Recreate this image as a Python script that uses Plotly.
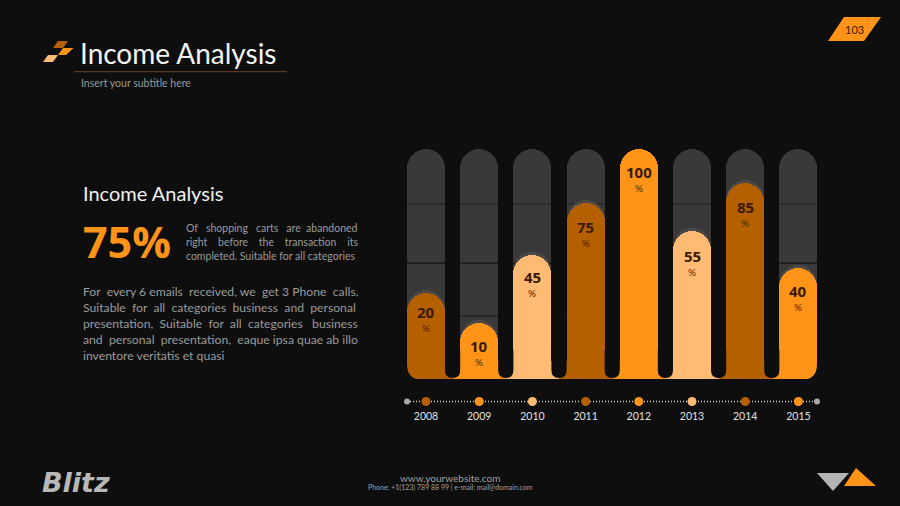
import plotly.graph_objects as go

# datos
years = [2008, 2009, 2010, 2011, 2012, 2013, 2014, 2015]
labels = [20, 10, 45, 75, 100, 55, 85, 40]
# alturas dibujadas (no van a escala con las etiquetas), en % de la columna gris
heights = [37.4, 24.3, 53.9, 76.5, 100, 64.3, 85.2, 48.3]
track = [100, 100, 100, 100, 100, 100, 100, 100]
grid_levels = [76.1, 50.4, 27.4]
grid_colors = ["#242424", "#141414", "#1a1a1a"]
# distancia en px del tope de la barra al numero
label_drop = [19, 23, 22, 24, 23, 25, 24, 23]

DARK = "#b46000"
ORANGE = "#ff9419"
LIGHT = "#ffbb73"
colors = [DARK, ORANGE, LIGHT, DARK, ORANGE, LIGHT, DARK, ORANGE]
BG = "#0e0e0e"
W, H = 900, 506

# escala: 2008 -> px 426, 53.2 px por anio / y=0 -> px 379, 2.3 px por unidad
PX_YEAR = 53.2
PX_UNIT = 2.3
xrange_ = [2008 - 426 / PX_YEAR, 2008 + (W - 426) / PX_YEAR]
yrange_ = [(379 - H) / PX_UNIT, 379 / PX_UNIT]
BAR_W = 38 / PX_YEAR
RADIUS = 19
GAP = (PX_YEAR - 38) / 2


def px_x(p):
    return 2008 + (p - 426) / PX_YEAR


def px_y(p):
    return (379 - p) / PX_UNIT


def P(x, y):
    return f"{x / W:.5f},{1 - y / H:.5f}"


def poly(points, color):
    d = "M " + " L ".join(P(*p) for p in points) + " Z"
    return dict(type="path", xref="paper", yref="paper", path=d, fillcolor=color, line_width=0)


def text(x, y, s, size, color, anchor="left", font="Lato"):
    return dict(xref="paper", yref="paper", x=x / W, y=1 - y / H, text=s, showarrow=False,
                xanchor=anchor, yanchor="middle", align=anchor,
                font=dict(size=size, color=color, family=font))


fig = go.Figure()

# columnas grises
fig.add_trace(go.Bar(x=years, y=track, width=BAR_W,
                     marker=dict(color="#393939", line_width=0, cornerradius=RADIUS),
                     yaxis="y", showlegend=False))

# lineas horizontales solo sobre las columnas
for level, c in zip(grid_levels, grid_colors):
    xs, ys = [], []
    for yr in years:
        xs += [yr - BAR_W / 2, yr + BAR_W / 2, None]
        ys += [level, level, None]
    fig.add_trace(go.Scatter(x=xs, y=ys, mode="lines", line=dict(color=c, width=1.2),
                             yaxis="y", showlegend=False))

# halo en su propio eje: si comparte eje con las barras plotly les recorta el redondeo
halo = [min(h + 1.4, 100) for h in heights]
fig.add_trace(go.Bar(x=years, y=halo, width=BAR_W,
                     marker=dict(color="#4b4845", line_width=0, cornerradius=RADIUS),
                     yaxis="y2", showlegend=False))

# pie de las barras y barras
fig.add_trace(go.Bar(x=years, y=[8] * 8, width=1, marker=dict(color=colors, line_width=0, cornerradius=0),
                     yaxis="y3", showlegend=False))
fig.add_trace(go.Bar(x=years, y=heights, width=BAR_W,
                     marker=dict(color=colors, line_width=0, cornerradius=RADIUS),
                     yaxis="y3", showlegend=False))

# linea de tiempo
tl_y = px_y(401.5)
fig.add_trace(go.Scatter(x=[px_x(407), px_x(817)], y=[tl_y, tl_y], mode="lines+markers",
                         line=dict(color="#d8d8d8", width=1.5, dash="1px,2px"),
                         marker=dict(size=6, color="#a8a8a8"), yaxis="y3", showlegend=False))
fig.add_trace(go.Scatter(x=years, y=[tl_y] * 8, mode="markers",
                         marker=dict(size=9, color=colors, line_width=0), yaxis="y3", showlegend=False))

shapes = []
# huecos negros con fondo redondeado entre barras
for a, b in zip(years[:-1], years[1:]):
    mid = 426 + ((a + b) / 2 - 2008) * PX_YEAR
    d = (f"M {P(mid - GAP, 350)} L {P(mid - GAP, 370)} Q {P(mid - GAP, 378)} {P(mid, 378)} "
         f"Q {P(mid + GAP, 378)} {P(mid + GAP, 370)} L {P(mid + GAP, 350)} Z")
    shapes.append(dict(type="path", xref="paper", yref="paper", path=d, fillcolor=BG, line_width=0))
# esquinas inferiores
shapes.append(dict(type="path", xref="paper", yref="paper", fillcolor=BG, line_width=0,
                   path=f"M {P(396, 355)} L {P(407, 355)} L {P(407, 364)} Q {P(407, 380)} {P(423, 380)} L {P(396, 380)} Z"))
shapes.append(dict(type="path", xref="paper", yref="paper", fillcolor=BG, line_width=0,
                   path=f"M {P(829, 355)} L {P(817, 355)} L {P(817, 364)} Q {P(817, 380)} {P(801, 380)} L {P(829, 380)} Z"))

# logo, subrayado, pagina y triangulos
shapes.append(poly([(58, 41), (68, 41), (63, 48), (53, 48)], DARK))
shapes.append(poly([(63, 48), (73.5, 48), (66, 55), (58, 55)], ORANGE))
shapes.append(poly([(48, 55), (58, 55), (53, 62), (43, 62)], LIGHT))
shapes.append(poly([(74, 71), (287, 71), (287, 72.3), (74, 72.3)], "#5c3a20"))
shapes.append(poly([(844, 17), (881, 17), (864, 41), (828, 41)], ORANGE))
shapes.append(poly([(817, 473), (849, 473), (833, 491)], "#b4b4b4"))
shapes.append(poly([(844, 486), (856, 468), (876, 486)], ORANGE))

GREY = "#9a9a9a"
ann = [
    text(78, 53, "Income Analysis", 28, "#f4f4f4"),
    text(79, 82.5, "Insert your subtitle here", 10.5, GREY),
    text(854, 29.5, "103", 11, "#3a1a00", "center"),
    text(81, 193, "Income Analysis", 20, "#f0f0f0"),
    text(81, 241, "<b>75%</b>", 43, ORANGE, font="Open Sans"),
    text(184, 228, "Of   shopping   carts   are  abandoned", 10.5, GREY),
    text(184, 242, "right    before    the    transaction    its", 10.5, GREY),
    text(184, 256, "completed. Suitable for all categories", 10.5, GREY),
    text(81, 291, "For  every 6 emails  received, we  get 3 Phone  calls.", 12.2, GREY),
    text(81, 307, "Suitable  for  all  categories  business  and  personal", 12.2, GREY),
    text(81, 323, "presentation,  Suitable  for  all  categories   business", 12.2, GREY),
    text(81, 339, "and  personal  presentation,  eaque ipsa quae ab illo", 12.2, GREY),
    text(81, 355, "inventore veritatis et quasi", 12.2, GREY),
    text(450, 477.5, "www.yourwebsite.com", 10, "#a0a0a0", "center"),
    text(450, 487.5, "Phone: +1(123) 789 88 99 | e-mail: mail@domain.com", 7, "#a0a0a0", "center"),
    text(40, 482, "<b><i>Blitz</i></b>", 27, "#b8b8b8", font="DejaVu Sans"),
]
# etiquetas de las barras
for yr, lab, h, drop in zip(years, labels, heights, label_drop):
    ann.append(dict(x=yr, y=h, yref="y3", text=f"<b>{lab}</b>", showarrow=False, yshift=-drop, yanchor="middle",
                    font=dict(size=15, color="#3a1a00", family="Open Sans")))
    ann.append(dict(x=yr, y=h, yref="y3", text="%", showarrow=False, yshift=-drop - 16, yanchor="middle",
                    font=dict(size=10, color="#4a2500", family="Lato")))

fig.update_layout(
    width=W, height=H, margin=dict(l=0, r=0, t=0, b=0),
    paper_bgcolor=BG, plot_bgcolor=BG, barmode="overlay", showlegend=False, bargap=0,
    shapes=shapes, annotations=ann,
    xaxis=dict(range=xrange_, domain=[0, 1], anchor="free", position=1 - 408 / H,
               tickmode="array", tickvals=years, ticktext=[str(y) for y in years],
               showgrid=False, zeroline=False, showline=False, ticks="",
               tickfont=dict(size=10.5, color="#e0e0e0", family="Lato")),
    yaxis=dict(range=yrange_, domain=[0, 1], visible=False, showgrid=False, zeroline=False),
    yaxis2=dict(range=yrange_, domain=[0, 1], overlaying="y", visible=False, showgrid=False, zeroline=False),
    yaxis3=dict(range=yrange_, domain=[0, 1], overlaying="y", visible=False, showgrid=False, zeroline=False),
)

# sin el margen por defecto del body ni la barra de herramientas
fig.write_html("out.html", config={"displayModeBar": False},
               post_script="document.body.style.margin='0';document.body.style.background='#0e0e0e';")
